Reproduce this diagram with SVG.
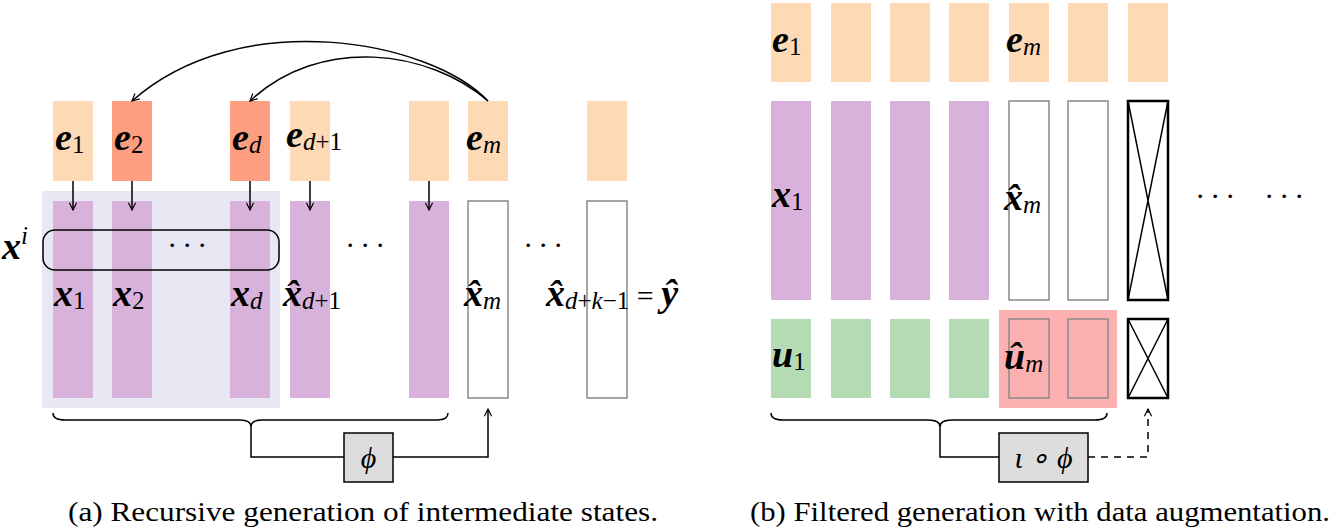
<svg xmlns="http://www.w3.org/2000/svg" width="1333" height="528" viewBox="0 0 1333 528">
<defs>
<marker id="ar" viewBox="0 0 10 10" refX="9" refY="5" markerWidth="9" markerHeight="9" orient="auto-start-reverse" markerUnits="userSpaceOnUse"><path d="M1,1 L9,5 L1,9" fill="none" stroke="#000" stroke-width="1.3"/></marker>
</defs>
<style>
.pe{fill:#FDD9B5}.sa{fill:#FC9E7F}.pu{fill:#D8B2DA}.gr{fill:#B4DBB4}
.em{fill:#fff;stroke:#888;stroke-width:1.5}
.cr{fill:#fff;stroke:#000;stroke-width:2.5}
.ln{fill:none;stroke:#000;stroke-width:1.5}
.v{font-family:'Liberation Serif',serif;font-size:38px;font-weight:bold;font-style:italic}
.s{font-family:'Liberation Serif',serif;font-size:25px;font-style:normal;font-weight:normal}
.si{font-family:'Liberation Serif',serif;font-size:25px;font-style:italic;font-weight:normal}
.m{font-family:'Liberation Serif',serif;font-size:30px;font-style:italic}
.cap{font-family:'Liberation Serif',serif;font-size:28px}
</style>
<g id="panel-a">
<rect id="bg" x="42" y="191" width="238" height="217" fill="#E8E8F5"/>
<g id="e-row">
<rect class="pe" x="53" y="101" width="40" height="80"/>
<rect class="sa" x="112" y="101" width="40" height="80"/>
<rect class="sa" x="230" y="101" width="40" height="80"/>
<rect class="pe" x="290" y="101" width="40" height="80"/>
<rect class="pe" x="409" y="101" width="40" height="80"/>
<rect class="pe" x="468" y="101" width="40" height="80"/>
<rect class="pe" x="587" y="101" width="40" height="80"/>
</g>
<g id="x-row">
<rect class="pu" x="53" y="201" width="40" height="197"/>
<rect class="pu" x="112" y="201" width="40" height="197"/>
<rect class="pu" x="230" y="201" width="40" height="197"/>
<rect class="pu" x="290" y="201" width="40" height="197"/>
<rect class="pu" x="409" y="201" width="40" height="197"/>
<rect class="em" x="468" y="201" width="40" height="197"/>
<rect class="em" x="587" y="201" width="40" height="197"/>
</g>
<rect id="xi-window" x="43" y="230" width="236" height="40" rx="12" class="ln"/>
<g id="labels-a">
<text class="v" x="55" y="150">e<tspan class="s" dy="3">1</tspan></text>
<text class="v" x="114" y="150">e<tspan class="s" dy="3">2</tspan></text>
<text class="v" x="232" y="150">e<tspan class="si" dy="3">d</tspan></text>
<text class="v" x="286" y="147">e<tspan class="si" dy="3">d</tspan><tspan class="s">+1</tspan></text>
<text class="v" x="466" y="150">e<tspan class="si" dy="3">m</tspan></text>
<text class="v" x="2" y="259">x<tspan class="si" dy="-15">i</tspan></text>
<text class="m" x="168" y="255">· · ·</text>
<text class="m" x="346" y="255">· · ·</text>
<text class="m" x="524" y="255">· · ·</text>
<text class="v" x="54" y="306">x<tspan class="s" dy="3">1</tspan></text>
<text class="v" x="113" y="306">x<tspan class="s" dy="3">2</tspan></text>
<text class="v" x="231" y="306">x<tspan class="si" dy="3">d</tspan></text>
<text class="v" x="283" y="306">x̂<tspan class="si" dy="3">d</tspan><tspan class="s">+1</tspan></text>
<text class="v" x="464" y="306">x̂<tspan class="si" dy="3">m</tspan></text>
<text class="v" x="546" y="306">x̂<tspan class="si" dy="3">d</tspan><tspan class="s">+</tspan><tspan class="si">k</tspan><tspan class="s">−1</tspan><tspan class="m" dy="-3" style="font-weight:normal;font-style:normal"> = </tspan>ŷ</text>
</g>
<g id="phi">
<rect x="344" y="433" width="49" height="49" fill="#DDDDDD" stroke="#000" stroke-width="1.5"/>
<text class="m" x="368.5" y="468" text-anchor="middle">ϕ</text>
</g>
<text class="cap" x="68" y="521" textLength="590" lengthAdjust="spacingAndGlyphs">(a) Recursive generation of intermediate states.</text>
</g>
<g id="panel-b">
<g id="e-row-b">
<rect class="pe" x="771" y="3" width="40" height="79"/>
<rect class="pe" x="831" y="3" width="40" height="79"/>
<rect class="pe" x="890" y="3" width="40" height="79"/>
<rect class="pe" x="949" y="3" width="40" height="79"/>
<rect class="pe" x="1009" y="3" width="40" height="79"/>
<rect class="pe" x="1068" y="3" width="40" height="79"/>
<rect class="pe" x="1128" y="3" width="40" height="79"/>
</g>
<g id="x-row-b">
<rect class="pu" x="771" y="101" width="40" height="199"/>
<rect class="pu" x="831" y="101" width="40" height="199"/>
<rect class="pu" x="890" y="101" width="40" height="199"/>
<rect class="pu" x="949" y="101" width="40" height="199"/>
<rect class="em" x="1009" y="101" width="40" height="199"/>
<rect class="em" x="1068" y="101" width="40" height="199"/>
<rect class="cr" x="1128" y="101" width="40" height="199"/>
<path class="ln" d="M1128,101 L1168,300 M1168,101 L1128,300"/>
</g>
<rect id="filtered" x="999" y="310" width="118" height="98" fill="#FDB0B0"/>
<g id="u-row-b">
<rect class="gr" x="771" y="319" width="40" height="79"/>
<rect class="gr" x="831" y="319" width="40" height="79"/>
<rect class="gr" x="890" y="319" width="40" height="79"/>
<rect class="gr" x="949" y="319" width="40" height="79"/>
<rect x="1009" y="319" width="40" height="79" fill="none" stroke="#888" stroke-width="1.5"/>
<rect x="1068" y="319" width="40" height="79" fill="none" stroke="#888" stroke-width="1.5"/>
<rect class="cr" x="1128" y="319" width="40" height="79"/>
<path class="ln" d="M1128,319 L1168,398 M1168,319 L1128,398"/>
</g>
<g id="labels-b">
<text class="v" x="772" y="52">e<tspan class="s" dy="3">1</tspan></text>
<text class="v" x="1006" y="52">e<tspan class="si" dy="3">m</tspan></text>
<text class="v" x="772" y="207">x<tspan class="s" dy="3">1</tspan></text>
<text class="v" x="1004" y="210">x̂<tspan class="si" dy="3">m</tspan></text>
<text class="v" x="772" y="367">u<tspan class="s" dy="3">1</tspan></text>
<text class="v" x="1004" y="369">û<tspan class="si" dy="3">m</tspan></text>
<text class="m" x="1196" y="206">· · ·</text>
<text class="m" x="1265" y="206">· · ·</text>
</g>
<g id="iota-phi">
<rect x="999" y="433" width="89" height="49" fill="#DDDDDD" stroke="#000" stroke-width="1.5"/>
<text class="m" x="1043.5" y="468" text-anchor="middle">ι ∘ ϕ</text>
</g>
<text class="cap" x="750" y="521" textLength="580" lengthAdjust="spacingAndGlyphs">(b) Filtered generation with data augmentation.</text>
</g>
<g id="connectors">
<path class="ln" marker-end="url(#ar)" d="M73,181 V210"/>
<path class="ln" marker-end="url(#ar)" d="M132,181 V210"/>
<path class="ln" marker-end="url(#ar)" d="M250,181 V210"/>
<path class="ln" marker-end="url(#ar)" d="M310,181 V210"/>
<path class="ln" marker-end="url(#ar)" d="M429,181 V210"/>
<path class="ln" marker-end="url(#ar)" d="M488,101 C430,40 240,5 132,101"/>
<path class="ln" marker-end="url(#ar)" d="M488,101 C430,50 320,35 250,101"/>
<path class="ln" d="M53,413 Q53,420 65,420 H240 Q251,420 251,427 Q251,420 262,420 H437 Q448,420 448,413"/>
<path class="ln" d="M251,427 V457 H344"/>
<path class="ln" marker-end="url(#ar)" d="M393,457 H488 V409"/>
<path class="ln" d="M771,413 Q771,420 783,420 H928 Q940,420 940,427 Q940,420 952,420 H1095 Q1107,420 1107,413"/>
<path class="ln" d="M940,427 V457 H999"/>
<path class="ln" marker-end="url(#ar)" stroke-dasharray="7,6" d="M1088,457 H1148 V409"/>
</g>
</svg>
